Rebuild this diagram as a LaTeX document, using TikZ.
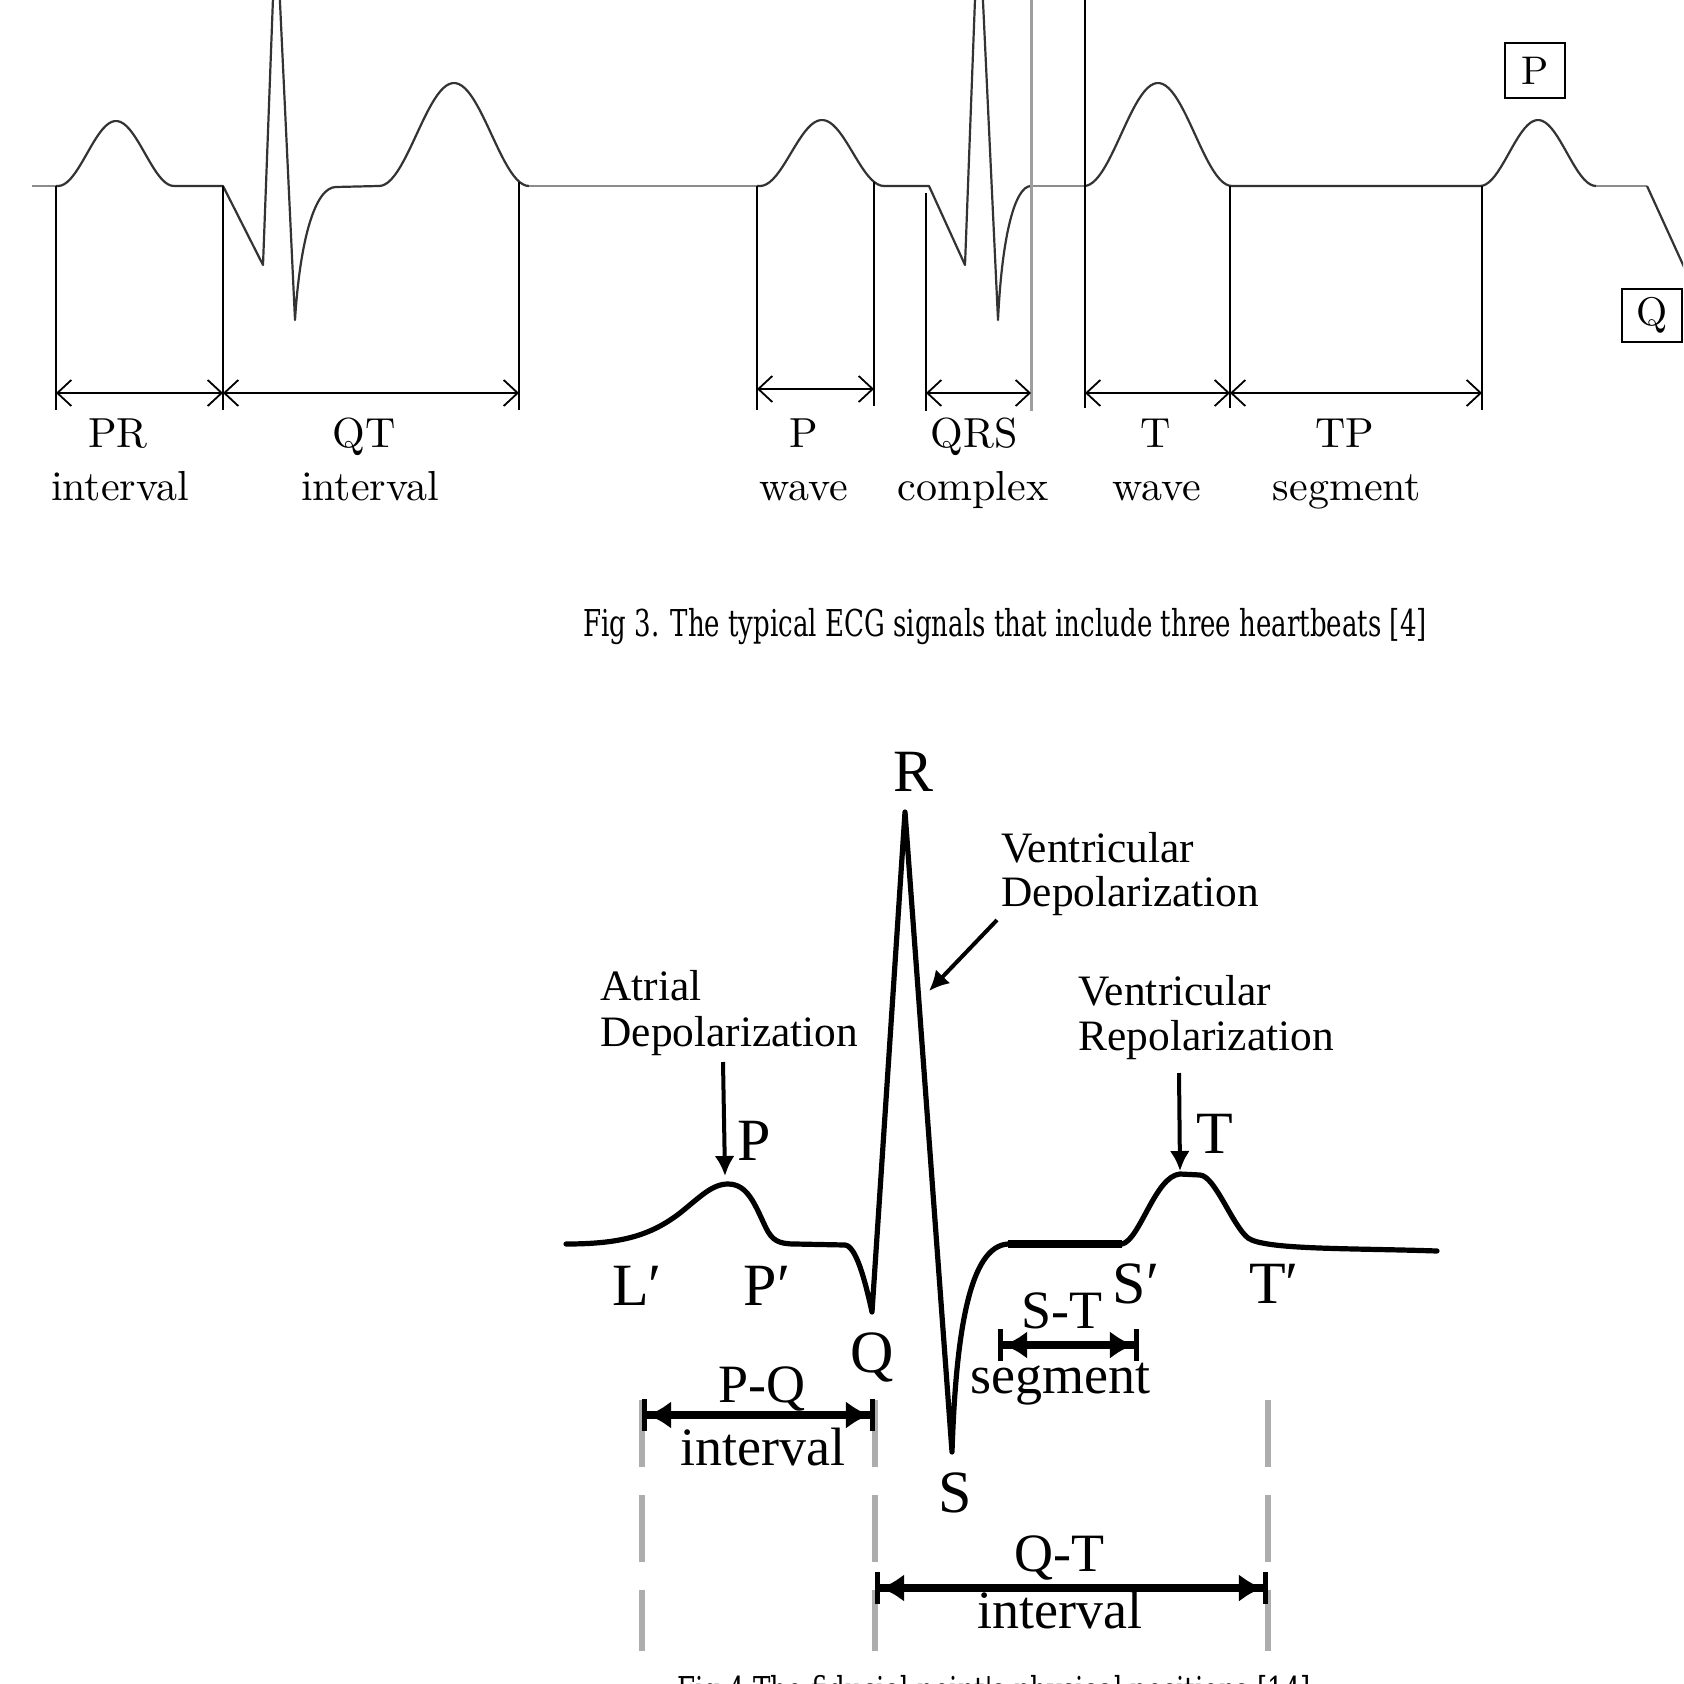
\documentclass[tikz,border=0pt]{standalone}
\usepackage{fontspec}
\usetikzlibrary{arrows.meta}
\newfontfamily\timesf{Liberation Serif}
\newfontfamily\lmten{lmroman10-regular.otf}
\newfontfamily\capf[FakeStretch=0.704]{DejaVu Serif}
\definecolor{siggray}{gray}{0.2}
\definecolor{lightline}{gray}{0.55}
\definecolor{guidegray}{gray}{0.68}
\definecolor{vgray}{gray}{0.62}
\begin{document}
\begin{tikzpicture}[x=0.5pt,y=-0.5pt,
 sig/.style={draw=siggray,line width=1.1pt,line join=round},
 sigl/.style={draw=lightline,line width=1.4pt},
 vline/.style={draw=black,line width=0.9pt},
 vgline/.style={draw=vgray,line width=1.5pt},
 dimarr/.style={draw=black,line width=0.9pt,{Straight Barb[length=7pt,width=13pt]}-{Straight Barb[length=7pt,width=13pt]}},
 toplab/.style={font=\lmten\fontsize{21}{21}\selectfont,inner sep=0pt,anchor=base},
 boxlab/.style={draw=black,line width=1.2pt,inner sep=0pt,minimum width=30pt,font=\lmten\fontsize{20}{20}\selectfont},
 capt/.style={font=\capf\fontsize{18.5}{18.5}\selectfont,inner sep=0pt,anchor=base west},
 bsig/.style={draw=black,line width=2.6pt,line join=round,line cap=round},
 annot/.style={font=\timesf\fontsize{21.7}{21.7}\selectfont,inner sep=0pt,anchor=base west},
 ptlab/.style={font=\timesf\fontsize{30}{30}\selectfont,inner sep=0pt,anchor=base},
 ivlab/.style={font=\timesf\fontsize{27}{27}\selectfont,inner sep=0pt,anchor=base},
 callout/.style={draw=black,line width=2pt,-{Latex[length=10pt,width=10pt]}},
 barrow/.style={draw=black,line width=3.6pt,{Bar[width=16pt,line width=2.6pt]Latex[length=12pt,width=14pt]}-{Latex[length=12pt,width=14pt]Bar[width=16pt,line width=2.6pt]}},
 guide/.style={draw=guidegray,line width=3pt,dash pattern=on 33.5pt off 14pt}]

\useasboundingbox (0,0) rectangle (1683,1684);
\clip (0,0) rectangle (1683,1684);

% ---------------- top: three heartbeats ----------------
\draw[sigl] (32,186) -- (56,186);
\draw[sig] (56,186) -- plot[domain=58:174,samples=40] (\x,{186-65*(1+cos(180*(\x-116)/58))/2})
  -- (223,186) -- (263,265) -- (276,-82) -- (295,320)
  .. controls (300,240) and (315,187) .. (336,187) -- (379,186)
  -- plot[domain=379:529,samples=50] (\x,{186-103*(1+cos(180*(\x-454)/75))/2});
\draw[sigl] (529,186) -- (757,186);
\draw[sig] (757,186) -- plot[domain=760:884,samples=40] (\x,{186-66*(1+cos(180*(\x-822)/62))/2})
  -- (929,186) -- (965,265) -- (978.5,-94) -- (998,320)
  .. controls (1002,235) and (1015,186) .. (1031,186);
\draw[sigl] (1031,186) -- (1084,186);
\draw[sig] plot[domain=1084:1232,samples=50] (\x,{186-103*(1+cos(180*(\x-1158)/74))/2})
  -- (1480,186) -- plot[domain=1480:1596,samples=40] (\x,{186-66*(1+cos(180*(\x-1538)/58))/2});
\draw[sigl] (1596,186) -- (1647,186);
\draw[sig] (1647,186) -- (1700,302);

% vertical guide lines
\draw[vline] (56,186) -- (56,410);
\draw[vline] (223,186) -- (223,410);
\draw[vline] (519,182) -- (519,410);
\draw[vline] (757,186) -- (757,410);
\draw[vline] (874,182) -- (874,406);
\draw[vline] (926,193) -- (926,411);
\draw[vgline] (1031,-5) -- (1031,411);
\draw[vline] (1085,-5) -- (1085,408);
\draw[vline] (1230,186) -- (1230,408);
\draw[vline] (1482,186) -- (1482,410);

% dimension arrows
\coordinate (d1) at (56,393);
\coordinate (d2) at (223,393);
\coordinate (d3) at (519,393);
\coordinate (d4) at (757,389);
\coordinate (d5) at (874,389);
\coordinate (d6) at (926,393);
\coordinate (d7) at (1031,393);
\coordinate (d8) at (1085,393);
\coordinate (d9) at (1230,393);
\coordinate (d10) at (1482,393);
\draw[dimarr] (d1) -- (d2);
\draw[dimarr] (d2) -- (d3);
\draw[dimarr] (d4) -- (d5);
\draw[dimarr] (d6) -- (d7);
\draw[dimarr] (d8) -- (d9);
\draw[dimarr] (d9) -- (d10);

% labels
\node[toplab] (pr1) at (118,447) {PR};
\node[toplab] (pr2) at (120,500) {interval};
\node[toplab] (qt1) at (364,447) {QT};
\node[toplab] (qt2) at (370,500) {interval};
\node[toplab] (pw1) at (804,447) {P};
\node[toplab] (pw2) at (804,500) {wave};
\node[toplab] (qrs1) at (974,447) {QRS};
\node[toplab] (qrs2) at (973,500) {complex};
\node[toplab] (tw1) at (1156,447) {T};
\node[toplab] (tw2) at (1157,500) {wave};
\node[toplab] (tp1) at (1345,447) {TP};
\node[toplab] (tp2) at (1347,500) {segment};

\node[boxlab,minimum height=27.5pt] (pbox) at (1535,70.5) {P};
\node[boxlab,minimum height=26.5pt] (qbox) at (1652,315.5) {Q};

\node[capt] (cap3) at (583,636) {Fig 3. The typical ECG signals that include three heartbeats [4]};

% ---------------- bottom: fiducial points ----------------
\draw[bsig] (566,1244) .. controls (620,1244) and (650,1236) .. (680,1213)
  .. controls (700,1197) and (712,1184) .. (728,1184)
  .. controls (748,1184) and (755,1205) .. (766,1228)
  .. controls (772,1240) and (778,1244) .. (795,1244) -- (845,1245)
  .. controls (856,1246) and (865,1280) .. (872,1312)
  -- (905,812) -- (952,1452)
  .. controls (956,1330) and (970,1246) .. (1008,1244) -- (1122,1244)
  .. controls (1140,1240) and (1155,1176) .. (1180,1174) -- (1200,1175)
  .. controls (1215,1176) and (1232,1225) .. (1248,1238)
  .. controls (1265,1250) and (1350,1248) .. (1437,1251);
\draw[draw=black,line width=4pt] (1008,1244) -- (1122,1244);

% guide dashes
\draw[guide] (642,1400) -- (642,1651);
\draw[guide] (875,1400) -- (875,1651);
\draw[guide] (1268,1400) -- (1268,1651);

% interval arrows
\coordinate (st1) at (998,1345);
\coordinate (st2) at (1139,1345);
\coordinate (pq1) at (642,1415);
\coordinate (pq2) at (875,1415);
\coordinate (qt1c) at (875,1588);
\coordinate (qt2c) at (1268,1588);
\draw[barrow] (st1) -- (st2);
\draw[barrow] (pq1) -- (pq2);
\draw[barrow] (qt1c) -- (qt2c);

% point labels
\node[ptlab] (rlab) at (913,791) {R};
\node[ptlab] (plab) at (754,1160) {P};
\node[ptlab] (tlab) at (1215,1153) {T};
\node[ptlab] (llab) at (637,1305) {L\char"2032};
\node[ptlab] (pplab) at (767,1305) {P\char"2032};
\node[ptlab] (sslab) at (1136,1303) {S\char"2032};
\node[ptlab] (ttlab) at (1274,1303) {T\char"2032};
\node[ptlab] (qlab) at (872,1372) {Q};
\node[ptlab] (slab) at (955,1512) {S};

% interval labels
\node[ivlab] (stl) at (1062,1328) {S-T};
\node[ivlab] (stl2) at (1060,1393) {segment};
\node[ivlab] (pql) at (762,1402) {P-Q};
\node[ivlab] (pql2) at (763,1465) {interval};
\node[ivlab] (qtl) at (1059,1571) {Q-T};
\node[ivlab] (qtl2) at (1060,1628) {interval};

% annotations
\node[annot] (vd1) at (1001,862) {Ventricular};
\node[annot] (vd2) at (1001,906) {Depolarization};
\node[annot] (ad1) at (600,1000) {Atrial};
\node[annot] (ad2) at (600,1046) {Depolarization};
\node[annot] (vr1) at (1078,1005) {Ventricular};
\node[annot] (vr2) at (1078,1050) {Repolarization};

\coordinate (ppk) at (725,1176);
\coordinate (rside) at (929,991);
\coordinate (tpk) at (1180,1171);
\draw[callout] (723,1062) -- (ppk);
\draw[callout] (997,920) -- (rside);
\draw[callout] (1179,1073) -- (tpk);

\node[capt] (cap4) at (677,1703) {Fig 4 The fiducial point's physical positions [14]};
\end{tikzpicture}
\end{document}
